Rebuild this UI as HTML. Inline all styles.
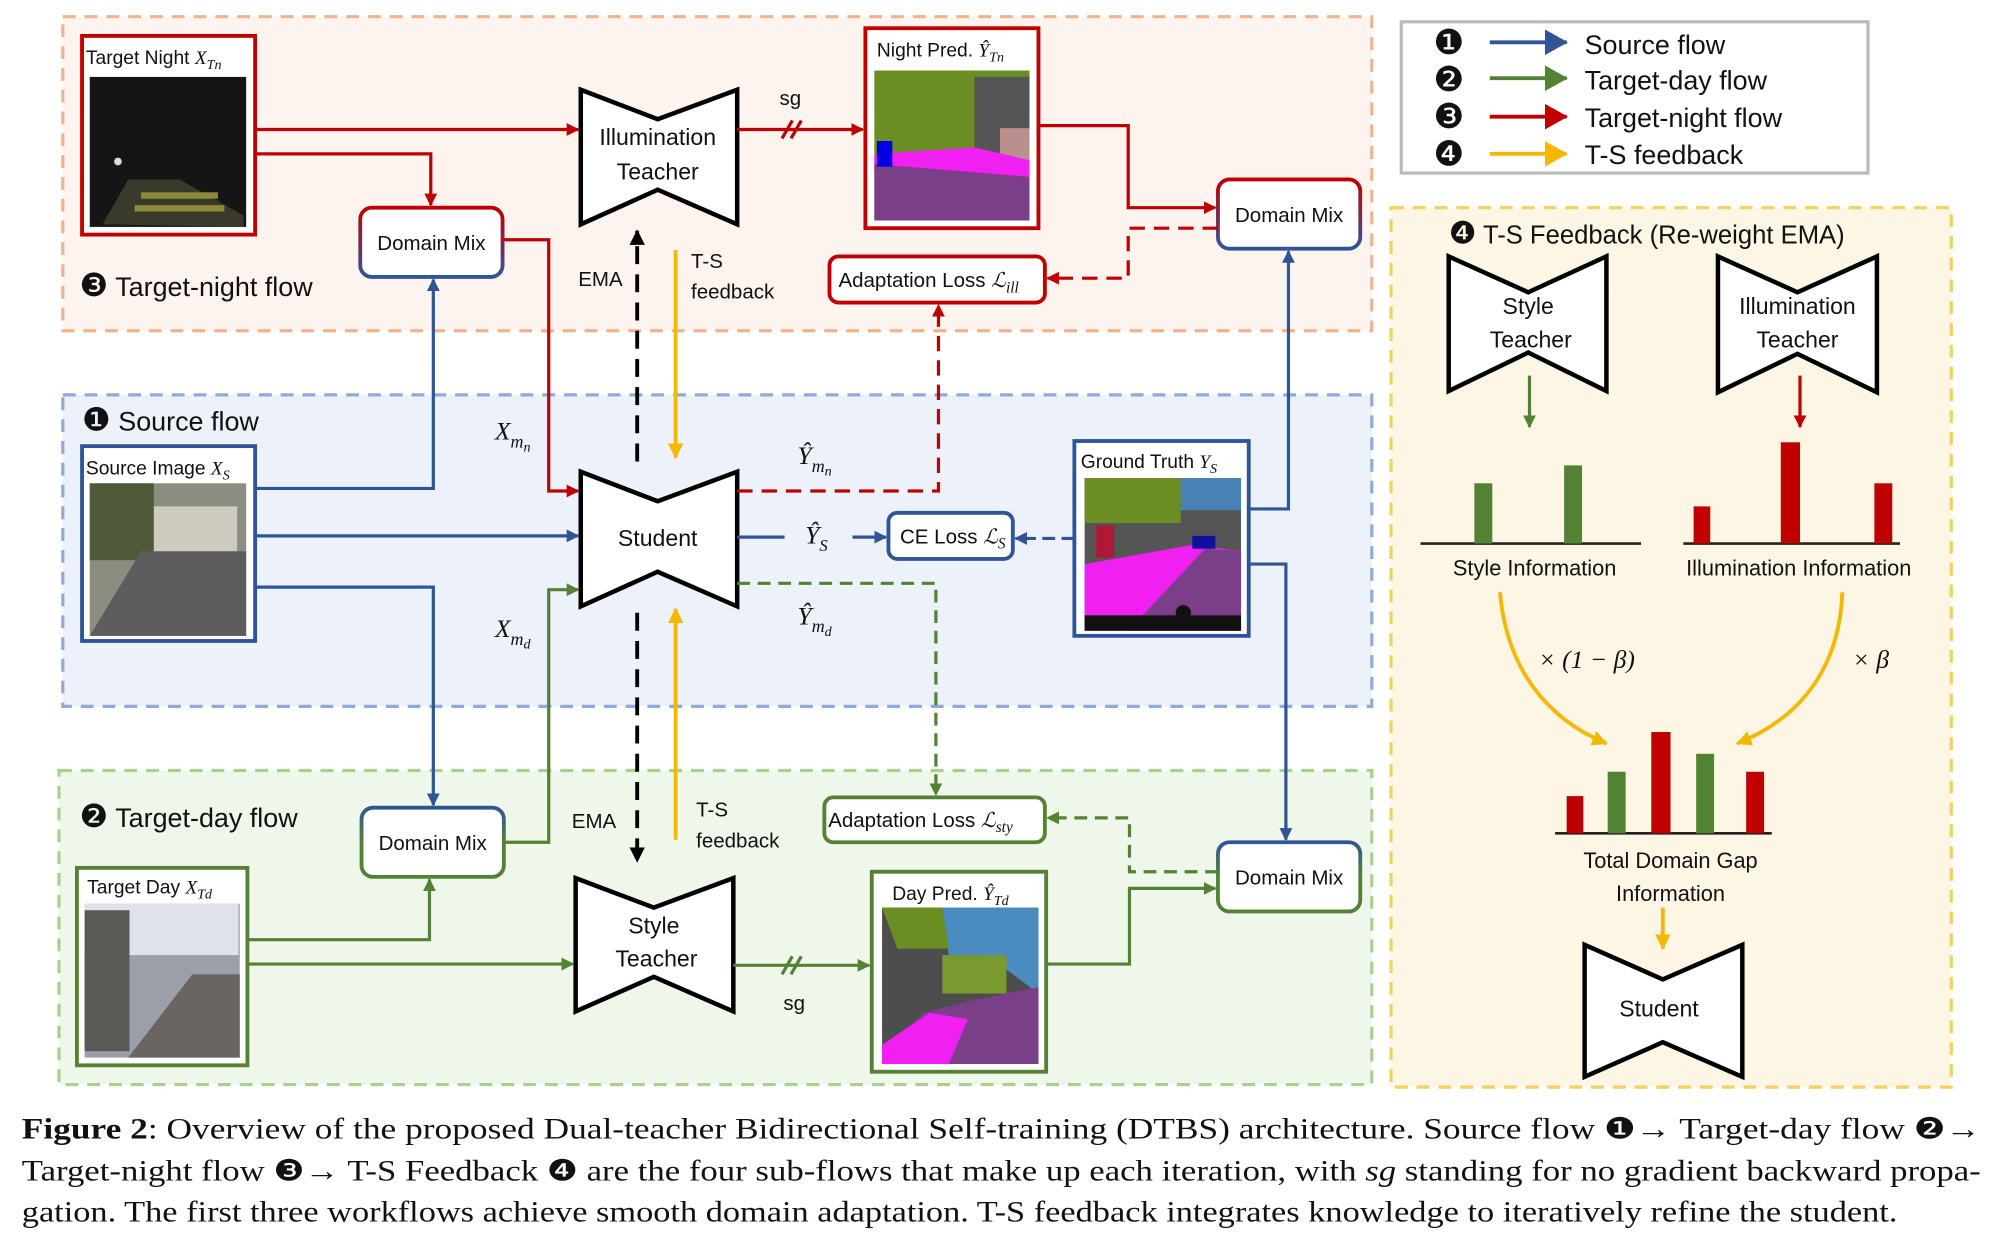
<!DOCTYPE html>
<html><head><meta charset="utf-8">
<style>
html,body{margin:0;padding:0;background:#fff;}
svg{display:block;}
text{font-family:"Liberation Sans",sans-serif;fill:#111;}
.cap{font-family:"Liberation Serif",serif;font-size:23px;}
.m{font-family:"Liberation Serif",serif;font-style:italic;}
</style></head><body>
<svg width="2000" height="1243" viewBox="0 0 1560 969.6" preserveAspectRatio="none" xmlns="http://www.w3.org/2000/svg">
<defs>
<marker id="aB" markerWidth="10" markerHeight="10" refX="9" refY="5" orient="auto" markerUnits="userSpaceOnUse"><path d="M0,0 L10,5 L0,10 z" fill="#2f5597"/></marker>
<marker id="aR" markerWidth="10" markerHeight="10" refX="9" refY="5" orient="auto" markerUnits="userSpaceOnUse"><path d="M0,0 L10,5 L0,10 z" fill="#c00000"/></marker>
<marker id="aG" markerWidth="10" markerHeight="10" refX="9" refY="5" orient="auto" markerUnits="userSpaceOnUse"><path d="M0,0 L10,5 L0,10 z" fill="#548235"/></marker>
<marker id="aY" markerWidth="12" markerHeight="12" refX="11" refY="6" orient="auto" markerUnits="userSpaceOnUse"><path d="M0,0 L12,6 L0,12 z" fill="#f5b800"/></marker>
<marker id="aK" markerWidth="12" markerHeight="12" refX="11" refY="6" orient="auto" markerUnits="userSpaceOnUse"><path d="M0,0 L12,6 L0,12 z" fill="#000"/></marker>
<marker id="LB" markerWidth="18" markerHeight="20" refX="17" refY="10" orient="auto" markerUnits="userSpaceOnUse"><path d="M0,0 L18,10 L0,20 z" fill="#2f5597"/></marker>
<marker id="LG" markerWidth="18" markerHeight="20" refX="17" refY="10" orient="auto" markerUnits="userSpaceOnUse"><path d="M0,0 L18,10 L0,20 z" fill="#548235"/></marker>
<marker id="LR" markerWidth="18" markerHeight="20" refX="17" refY="10" orient="auto" markerUnits="userSpaceOnUse"><path d="M0,0 L18,10 L0,20 z" fill="#c00000"/></marker>
<marker id="LY" markerWidth="18" markerHeight="20" refX="17" refY="10" orient="auto" markerUnits="userSpaceOnUse"><path d="M0,0 L18,10 L0,20 z" fill="#f5b800"/></marker>
<linearGradient id="gRB" x1="0" y1="0" x2="0" y2="1"><stop offset="0" stop-color="#c00000"/><stop offset="1" stop-color="#2f5597"/></linearGradient>
<linearGradient id="gBG" x1="0" y1="0" x2="0" y2="1"><stop offset="0" stop-color="#2f5597"/><stop offset="0.5" stop-color="#548235"/></linearGradient>
</defs>

<rect x="49" y="13" width="1021" height="245" fill="#fdf4ef" stroke="#f0b48c" stroke-width="2.5" stroke-dasharray="10,7"/>
<rect x="49" y="308" width="1021" height="243" fill="#edf1f9" stroke="#8faadc" stroke-width="2.5" stroke-dasharray="10,7"/>
<rect x="46" y="601" width="1024" height="245" fill="#eff6ea" stroke="#a9d18e" stroke-width="2.5" stroke-dasharray="10,7"/>
<rect x="1085" y="162" width="437" height="686" fill="#fdf6e4" stroke="#f6cf5e" stroke-width="2.5" stroke-dasharray="10,7"/>
<rect x="1093" y="17" width="364" height="118" fill="#fff" stroke="#bbb" stroke-width="2.5"/>

<g font-size="21">
<text x="1118" y="42" font-size="27">❶</text><line x1="1162" y1="33" x2="1222" y2="33" stroke="#2f5597" stroke-width="3" marker-end="url(#LB)"/><text x="1236" y="42">Source flow</text>
<text x="1118" y="71" font-size="27">❷</text><line x1="1162" y1="61" x2="1222" y2="61" stroke="#548235" stroke-width="3" marker-end="url(#LG)"/><text x="1236" y="70">Target-day flow</text>
<text x="1118" y="100" font-size="27">❸</text><line x1="1162" y1="91" x2="1222" y2="91" stroke="#c00000" stroke-width="3" marker-end="url(#LR)"/><text x="1236" y="99">Target-night flow</text>
<text x="1118" y="129" font-size="27">❹</text><line x1="1162" y1="120" x2="1222" y2="120" stroke="#f5b800" stroke-width="3" marker-end="url(#LY)"/><text x="1236" y="128">T-S feedback</text>
</g>

<text x="62" y="231" font-size="21"><tspan font-size="25">❸</tspan> Target-night  flow</text>
<text x="64" y="336" font-size="21"><tspan font-size="25">❶</tspan> Source  flow</text>
<text x="62" y="645" font-size="21"><tspan font-size="25">❷</tspan> Target-day  flow</text>

<rect x="64" y="28" width="135" height="155" fill="#fff" stroke="#c00000" stroke-width="3"/>
<text x="67" y="50" font-size="15">Target Night <tspan class="m">X</tspan><tspan class="m" font-size="11" dy="4">Tn</tspan></text>
<rect x="70" y="60" width="122" height="117" fill="#151515"/>
<polygon points="80,175 100,140 140,140 190,168 190,177" fill="#3a3a2a"/>
<rect x="110" y="150" width="60" height="5" fill="#8c8a3a"/><rect x="105" y="160" width="70" height="5" fill="#8c8a3a"/>
<circle cx="92" cy="126" r="3" fill="#ddd"/>

<rect x="675" y="22" width="135" height="156" fill="#fff" stroke="#c00000" stroke-width="3"/>
<text x="684" y="44" font-size="15">Night Pred. <tspan class="m">Ŷ</tspan><tspan class="m" font-size="11" dy="4">Tn</tspan></text>
<rect x="682" y="55" width="121" height="117" fill="#6b8e23"/>
<rect x="760" y="60" width="43" height="60" fill="#555"/>
<rect x="780" y="100" width="23" height="25" fill="#bc8f8f"/>
<polygon points="682,120 760,115 803,125 803,140 682,135" fill="#f020f0"/>
<polygon points="682,128 803,138 803,172 682,172" fill="#7b3f8a"/>
<rect x="684" y="110" width="12" height="20" fill="#0000e0"/>

<rect x="64" y="348" width="135" height="152" fill="#fff" stroke="#2f5597" stroke-width="3"/>
<text x="67" y="370" font-size="15">Source Image <tspan class="m">X</tspan><tspan class="m" font-size="11" dy="4">S</tspan></text>
<rect x="70" y="377" width="122" height="119" fill="#8a8d80"/>
<rect x="70" y="377" width="50" height="60" fill="#4e5a3a"/>
<rect x="120" y="395" width="65" height="40" fill="#cfcbc0"/>
<polygon points="70,496 110,430 192,430 192,496" fill="#5d5d5f"/>

<rect x="838" y="344" width="136" height="152" fill="#fff" stroke="#2f5597" stroke-width="3"/>
<text x="843" y="365" font-size="15">Ground Truth <tspan class="m">Y</tspan><tspan class="m" font-size="11" dy="4">S</tspan></text>
<rect x="846" y="373" width="122" height="119" fill="#555"/>
<rect x="846" y="373" width="75" height="35" fill="#6b8e23"/>
<rect x="921" y="373" width="47" height="25" fill="#4682b4"/>
<polygon points="846,440 930,425 968,430 968,492 846,492" fill="#f020f0"/>
<polygon points="880,492 940,428 968,430 968,492" fill="#7b3f8a"/>
<rect x="846" y="480" width="122" height="12" fill="#111"/>
<circle cx="923" cy="478" r="6" fill="#111"/>
<rect x="855" y="410" width="14" height="25" fill="#b0183a"/>
<rect x="930" y="418" width="18" height="10" fill="#1010a0"/>

<rect x="60" y="677" width="133" height="154" fill="#fff" stroke="#548235" stroke-width="3"/>
<text x="68" y="697" font-size="15">Target Day <tspan class="m">X</tspan><tspan class="m" font-size="11" dy="4">Td</tspan></text>
<rect x="66" y="705" width="121" height="120" fill="#9ba0a8"/>
<rect x="66" y="705" width="120" height="40" fill="#dfe2e8"/>
<rect x="66" y="710" width="35" height="110" fill="#5a5a55"/>
<polygon points="100,825 150,760 187,760 187,825" fill="#6a6560"/>

<rect x="680" y="680" width="136" height="156" fill="#fff" stroke="#548235" stroke-width="3"/>
<text x="696" y="702" font-size="15">Day Pred. <tspan class="m">Ŷ</tspan><tspan class="m" font-size="11" dy="4">Td</tspan></text>
<rect x="688" y="708" width="122" height="122" fill="#4d4d4d"/>
<polygon points="735,708 810,708 810,775 770,745 740,745" fill="#4a8bc0"/>
<polygon points="688,708 735,708 740,740 700,740" fill="#6b8e23"/>
<rect x="735" y="745" width="50" height="30" fill="#7a9a30"/>
<polygon points="688,825 720,790 760,780 810,770 810,830 688,830" fill="#7b3f8a"/>
<polygon points="688,830 688,815 725,790 755,795 740,830" fill="#f020f0"/>

<rect x="281" y="162" width="111" height="54" rx="9" fill="#fff" stroke="url(#gRB)" stroke-width="3"/>
<text x="336.5" y="195" font-size="16" text-anchor="middle">Domain Mix</text>
<rect x="950" y="140" width="111" height="54" rx="9" fill="#fff" stroke="url(#gRB)" stroke-width="3"/>
<text x="1005.5" y="173" font-size="16" text-anchor="middle">Domain Mix</text>
<rect x="282" y="630" width="111" height="54" rx="9" fill="#fff" stroke="url(#gBG)" stroke-width="3"/>
<text x="337.5" y="663" font-size="16" text-anchor="middle">Domain Mix</text>
<rect x="950" y="657" width="111" height="54" rx="9" fill="#fff" stroke="url(#gBG)" stroke-width="3"/>
<text x="1005.5" y="690" font-size="16" text-anchor="middle">Domain Mix</text>
<rect x="647" y="200" width="168" height="36" rx="7" fill="#fff" stroke="#c00000" stroke-width="3"/>
<text x="654" y="224" font-size="16">Adaptation Loss <tspan class="m">ℒ</tspan><tspan class="m" font-size="12" dy="4">ill</tspan></text>
<rect x="643" y="622" width="172" height="35" rx="7" fill="#fff" stroke="#548235" stroke-width="3"/>
<text x="646" y="645" font-size="16">Adaptation Loss <tspan class="m">ℒ</tspan><tspan class="m" font-size="12" dy="4">sty</tspan></text>
<rect x="693" y="400" width="97" height="36" rx="7" fill="#fff" stroke="#2f5597" stroke-width="3"/>
<text x="702" y="424" font-size="16">CE Loss <tspan class="m">ℒ</tspan><tspan class="m" font-size="12" dy="4">S</tspan></text>

<g fill="#fff" stroke="#000" stroke-width="3.5">
<polygon points="453,70 513,93 575,70 575,175 513,148 453,175"/>
<polygon points="453,368 513,391 575,368 575,473 513,446 453,473"/>
<polygon points="449,685 510,708 572,685 572,789 510,762 449,789"/>
<polygon points="1130,200 1192,228 1253,200 1253,305 1192,275 1130,305"/>
<polygon points="1340,200 1402,228 1464,200 1464,306 1402,276 1340,306"/>
<polygon points="1236,737 1297,764 1359,737 1359,840 1297,813 1236,840"/>
</g>
<g font-size="18" text-anchor="middle">
<text x="513" y="113">Illumination</text><text x="513" y="140">Teacher</text>
<text x="513" y="426">Student</text>
<text x="510" y="728">Style</text><text x="512" y="754">Teacher</text>
<text x="1192" y="245">Style</text><text x="1194" y="271">Teacher</text>
<text x="1402" y="245">Illumination</text><text x="1402" y="271">Teacher</text>
<text x="1294" y="793">Student</text>
</g>

<g fill="none" stroke="#c00000" stroke-width="2.5">
<line x1="199" y1="101" x2="451" y2="101" marker-end="url(#aR)"/>
<polyline points="199,120 336,120 336,160" marker-end="url(#aR)"/>
<polyline points="392,187 428,187 428,383 451,383" marker-end="url(#aR)"/>
<line x1="575" y1="101" x2="673" y2="101" marker-end="url(#aR)"/>
<line x1="610" y1="108" x2="618" y2="94"/><line x1="617" y1="108" x2="625" y2="94"/>
<polyline points="810,98 880,98 880,162 948,162" marker-end="url(#aR)"/>
<polyline points="950,178 880,178 880,217 817,217" stroke-dasharray="12,7" marker-end="url(#aR)"/>
<polyline points="575,383 732,383 732,238" stroke-dasharray="12,7" marker-end="url(#aR)"/>
</g>
<g fill="none" stroke="#2f5597" stroke-width="2.5">
<polyline points="199,381 338,381 338,218" marker-end="url(#aB)"/>
<line x1="199" y1="418" x2="451" y2="418" marker-end="url(#aB)"/>
<polyline points="199,458 338,458 338,628" marker-end="url(#aB)"/>
<line x1="575" y1="419" x2="612" y2="419"/>
<line x1="665" y1="419" x2="691" y2="419" marker-end="url(#aB)"/>
<line x1="838" y1="420" x2="792" y2="420" stroke-dasharray="10,5" marker-end="url(#aB)"/>
<polyline points="974,397 1005,397 1005,196" marker-end="url(#aB)"/>
<polyline points="974,440 1003,440 1003,655" marker-end="url(#aB)"/>
</g>
<g fill="none" stroke="#548235" stroke-width="2.5">
<polyline points="393,657 428,657 428,460 451,460" marker-end="url(#aG)"/>
<polyline points="575,455 730,455 730,620" stroke-dasharray="10,6" marker-end="url(#aG)"/>
<polyline points="193,733 335,733 335,686" marker-end="url(#aG)"/>
<line x1="193" y1="752" x2="447" y2="752" marker-end="url(#aG)"/>
<line x1="572" y1="753" x2="678" y2="753" marker-end="url(#aG)"/>
<line x1="610" y1="760" x2="618" y2="746"/><line x1="617" y1="760" x2="625" y2="746"/>
<polyline points="816,752 881,752 881,693 948,693" marker-end="url(#aG)"/>
<polyline points="950,680 881,680 881,638 817,638" stroke-dasharray="10,6" marker-end="url(#aG)"/>
<line x1="1193" y1="293" x2="1193" y2="333" marker-end="url(#aG)"/>
</g>
<line x1="1404" y1="293" x2="1404" y2="333" stroke="#c00000" stroke-width="2.5" marker-end="url(#aR)"/>

<g fill="none" stroke-width="3">
<line x1="497" y1="360" x2="497" y2="180" stroke="#000" stroke-dasharray="14,8" marker-end="url(#aK)"/>
<line x1="497" y1="478" x2="497" y2="672" stroke="#000" stroke-dasharray="14,8" marker-end="url(#aK)"/>
<line x1="527" y1="195" x2="527" y2="357" stroke="#f5b800" marker-end="url(#aY)"/>
<line x1="527" y1="655" x2="527" y2="475" stroke="#f5b800" marker-end="url(#aY)"/>
<path d="M1170,462 C1175,520 1205,560 1253,580" stroke="#f5b800" marker-end="url(#aY)"/>
<path d="M1437,462 C1435,520 1405,560 1355,580" stroke="#f5b800" marker-end="url(#aY)"/>
<line x1="1297" y1="708" x2="1297" y2="740" stroke="#f5b800" marker-end="url(#aY)"/>
</g>

<g font-size="16">
<text x="451" y="223">EMA</text>
<text x="539" y="209">T-S</text><text x="539" y="233">feedback</text>
<text x="446" y="646">EMA</text>
<text x="543" y="637">T-S</text><text x="543" y="661">feedback</text>
<text x="608" y="82">sg</text>
<text x="611" y="788">sg</text>
</g>
<g font-size="20">
<text x="386" y="343" class="m">X<tspan font-size="14" dy="6">m</tspan><tspan font-size="11" dy="3">n</tspan></text>
<text x="386" y="497" class="m">X<tspan font-size="14" dy="6">m</tspan><tspan font-size="11" dy="3">d</tspan></text>
<text x="622" y="362" class="m">Ŷ<tspan font-size="14" dy="6">m</tspan><tspan font-size="11" dy="3">n</tspan></text>
<text x="622" y="487" class="m">Ŷ<tspan font-size="14" dy="6">m</tspan><tspan font-size="11" dy="3">d</tspan></text>
<text x="628" y="424" class="m">Ŷ<tspan font-size="13" dy="6">S</tspan></text>
</g>

<text x="1130" y="190" font-size="20"><tspan font-size="24">❹</tspan> T-S Feedback (Re-weight EMA)</text>
<g stroke="#222" stroke-width="2"><line x1="1108" y1="424" x2="1280" y2="424"/><line x1="1313" y1="424" x2="1482" y2="424"/><line x1="1213" y1="650" x2="1382" y2="650"/></g>
<g fill="#548235">
<rect x="1150" y="377" width="14" height="47"/><rect x="1220" y="363" width="14" height="61"/>
<rect x="1254" y="602" width="14" height="48"/><rect x="1323" y="588" width="14" height="62"/>
</g>
<g fill="#c00000">
<rect x="1321" y="395" width="13" height="29"/><rect x="1389" y="345" width="15" height="79"/><rect x="1462" y="377" width="14" height="47"/>
<rect x="1222" y="621" width="13" height="29"/><rect x="1288" y="571" width="15" height="79"/><rect x="1362" y="602" width="14" height="48"/>
</g>
<g font-size="17" text-anchor="middle">
<text x="1197" y="449">Style Information</text>
<text x="1403" y="449">Illumination Information</text>
<text x="1303" y="677">Total Domain Gap</text>
<text x="1303" y="703">Information</text>
</g>
<text x="1200" y="521" font-size="20" class="m">× (1 − β)</text>
<text x="1445" y="521" font-size="20" class="m">× β</text>

<text class="cap" x="17" y="888" textLength="1528" lengthAdjust="spacingAndGlyphs"><tspan font-weight="bold">Figure 2</tspan>: Overview of the proposed Dual-teacher Bidirectional Self-training (DTBS) architecture. Source flow ❶→ Target-day flow ❷→</text>
<text class="cap" x="17" y="921" textLength="1528" lengthAdjust="spacingAndGlyphs">Target-night flow ❸→ T-S Feedback ❹ are the four sub-flows that make up each iteration, with <tspan font-style="italic">sg</tspan> standing for no gradient backward propa-</text>
<text class="cap" x="17" y="953" textLength="1463" lengthAdjust="spacingAndGlyphs">gation. The first three workflows achieve smooth domain adaptation. T-S feedback integrates knowledge to iteratively refine the student.</text>
</svg>
</body></html>
